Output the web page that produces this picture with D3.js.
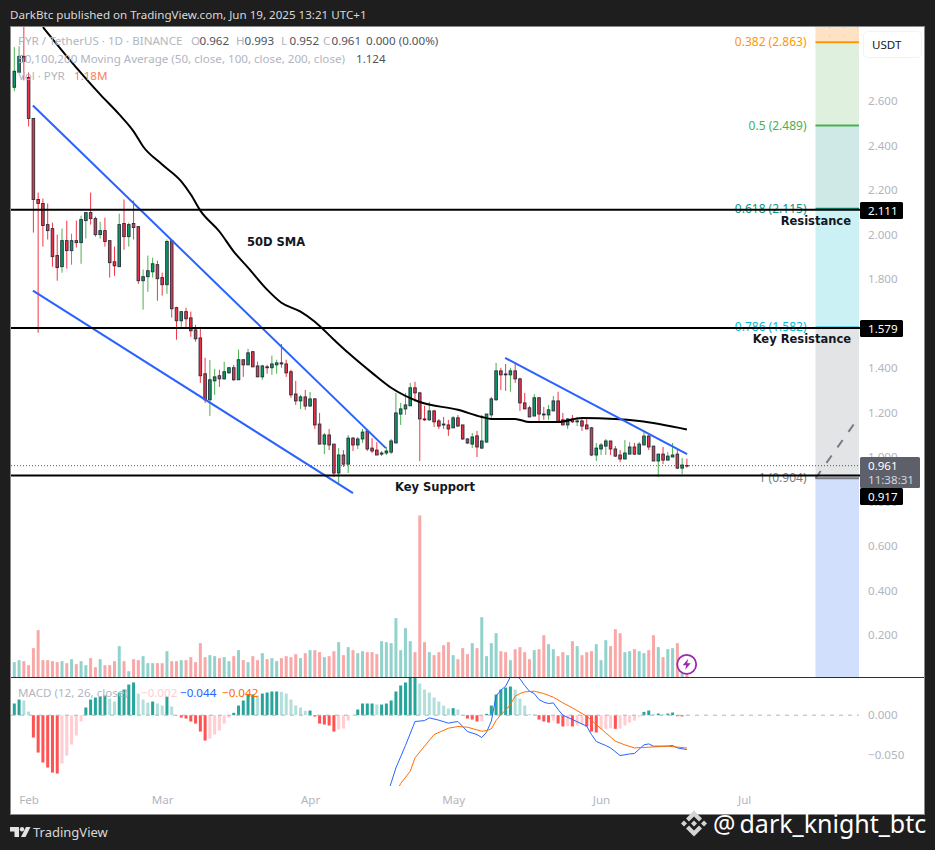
<!DOCTYPE html>
<html>
<head>
<meta charset="utf-8">
<script src="https://cdn.jsdelivr.net/npm/d3@7/dist/d3.min.js"></script>
<style>
  body { margin: 0; background: #1e1e1e; }
  text { font-family: "Noto Sans", sans-serif; }
</style>
</head>
<body>
<div id="chart"></div>
<script>
// daily candles, Jan 29 to Jun 19 2025, index = days since Jan 29
const open = [2.661,2.728,2.800,2.705,2.521,2.157,2.139,2.044,2.026,1.905,1.855,1.972,1.927,1.972,1.963,2.062,2.098,2.071,1.999,2.017,1.972,1.877,1.855,2.049,1.990,2.049,2.035,1.792,1.810,1.832,1.864,1.806,1.774,1.972,1.671,1.612,1.653,1.625,1.571,1.535,1.374,1.257,1.342,1.365,1.351,1.378,1.401,1.347,1.437,1.414,1.473,1.409,1.360,1.405,1.401,1.414,1.423,1.418,1.383,1.283,1.252,1.270,1.229,1.261,1.148,1.058,1.099,1.058,0.928,1.009,0.968,1.085,1.054,1.081,1.117,1.040,1.031,1.013,1.018,1.022,1.063,1.193,1.216,1.230,1.311,1.288,1.171,1.167,1.207,1.162,1.148,1.144,1.131,1.176,1.144,1.081,1.058,1.095,1.040,1.067,1.189,1.257,1.387,1.373,1.369,1.387,1.351,1.243,1.221,1.184,1.266,1.193,1.189,1.207,1.252,1.167,1.144,1.171,1.158,1.162,1.144,1.131,1.009,1.036,1.049,1.072,1.036,1.009,0.991,1.013,1.045,1.013,1.054,1.094,1.049,0.982,1.013,0.986,1.000,1.013,0.950,0.962];
const high = [2.841,2.845,2.935,2.728,2.521,2.188,2.161,2.139,2.053,1.999,2.026,2.062,2.003,2.062,2.084,2.098,2.188,2.080,2.057,2.075,1.972,1.945,2.093,2.157,2.053,2.152,2.035,1.842,1.905,1.895,1.882,1.828,1.977,1.977,1.675,1.653,1.671,1.653,1.594,1.585,1.446,1.436,1.396,1.392,1.428,1.405,1.414,1.482,1.437,1.486,1.477,1.428,1.414,1.414,1.455,1.437,1.508,1.437,1.392,1.342,1.279,1.301,1.292,1.265,1.198,1.108,1.126,1.058,1.040,1.031,1.099,1.090,1.090,1.126,1.126,1.085,1.067,1.027,1.045,1.081,1.288,1.243,1.288,1.333,1.338,1.293,1.230,1.248,1.212,1.171,1.180,1.167,1.184,1.189,1.144,1.085,1.108,1.117,1.189,1.193,1.270,1.423,1.401,1.418,1.401,1.423,1.356,1.288,1.230,1.283,1.270,1.225,1.234,1.274,1.293,1.198,1.175,1.189,1.180,1.175,1.175,1.135,1.063,1.063,1.081,1.072,1.049,1.031,1.076,1.067,1.063,1.067,1.112,1.099,1.049,1.013,1.045,1.022,1.063,1.031,0.995,0.993];
const low = [2.643,2.728,2.692,2.485,2.008,1.558,1.945,1.977,1.855,1.792,1.828,1.846,1.864,1.941,1.868,1.981,2.044,1.990,1.981,1.945,1.806,1.814,1.855,1.931,1.945,1.977,1.778,1.662,1.742,1.806,1.702,1.725,1.733,1.626,1.527,1.585,1.581,1.540,1.518,1.333,1.243,1.185,1.279,1.315,1.347,1.374,1.342,1.347,1.360,1.414,1.405,1.360,1.347,1.374,1.369,1.374,1.401,1.360,1.266,1.234,1.216,1.212,1.225,1.126,1.058,1.013,1.031,0.910,0.874,0.955,0.928,1.027,1.036,1.063,1.027,1.018,1.009,1.004,1.009,1.013,1.063,1.144,1.189,1.230,1.248,0.982,1.162,1.162,1.135,1.126,1.126,1.095,1.131,1.135,1.077,1.058,1.040,1.000,1.036,1.067,1.175,1.252,1.301,1.297,1.293,1.333,1.207,1.216,1.180,1.184,1.153,1.167,1.167,1.207,1.153,1.144,1.126,1.153,1.139,1.117,1.126,1.004,0.982,1.009,1.009,1.009,1.000,0.977,0.991,1.013,1.009,1.009,1.054,1.031,0.982,0.910,0.968,0.986,1.000,0.946,0.923,0.952];
const close = [2.733,2.800,2.778,2.521,2.157,2.139,2.040,2.017,1.900,1.851,1.972,1.927,1.972,1.963,2.067,2.098,2.071,1.999,2.017,1.968,1.873,1.859,2.044,1.990,2.044,2.031,1.792,1.810,1.837,1.868,1.801,1.774,1.968,1.666,1.612,1.653,1.621,1.567,1.531,1.365,1.257,1.347,1.360,1.351,1.383,1.401,1.347,1.437,1.414,1.468,1.405,1.360,1.409,1.401,1.418,1.423,1.418,1.378,1.279,1.252,1.270,1.229,1.261,1.144,1.058,1.099,1.054,0.928,1.009,0.968,1.085,1.054,1.081,1.112,1.036,1.027,1.009,1.018,1.027,1.072,1.198,1.216,1.234,1.311,1.288,1.171,1.167,1.207,1.158,1.139,1.144,1.126,1.176,1.139,1.081,1.063,1.090,1.045,1.072,1.193,1.261,1.387,1.369,1.369,1.387,1.351,1.243,1.216,1.180,1.266,1.193,1.189,1.212,1.252,1.158,1.144,1.171,1.158,1.162,1.139,1.126,1.009,1.040,1.054,1.072,1.036,1.004,0.991,1.018,1.045,1.013,1.058,1.094,1.045,0.982,1.013,0.986,1.004,1.009,0.950,0.964,0.961];

// volume in millions
const volume = [1.84,2.08,1.96,1.48,3.52,5.68,2.08,2.08,1.96,1.84,1.96,1.72,2.20,1.60,1.96,1.48,2.32,1.24,2.20,1.48,1.48,1.96,3.76,1.96,0.76,2.20,2.08,2.56,1.72,1.72,1.72,1.72,3.16,1.96,1.96,2.08,2.08,2.44,1.84,4.12,2.44,2.68,2.56,2.32,2.44,1.96,2.56,3.28,2.08,1.84,2.56,2.08,2.92,2.20,2.32,1.96,2.32,2.56,2.44,2.80,2.32,2.92,3.28,3.28,3.04,2.44,2.56,3.16,4.24,2.68,3.64,3.28,2.92,3.16,3.04,3.04,2.80,4.36,4.24,4.12,7.12,3.28,5.92,4.36,3.04,19.44,4.24,3.04,2.68,3.04,3.88,4.24,2.68,2.20,3.52,2.80,4.12,3.52,7.24,2.56,4.12,5.32,3.16,3.04,2.08,3.40,3.64,3.04,2.20,3.28,3.40,5.08,4.00,3.40,2.56,3.04,2.68,4.36,3.76,2.68,3.04,3.16,4.00,2.08,4.48,3.76,5.80,5.32,3.04,3.16,3.40,3.16,2.92,3.28,5.08,3.64,2.44,3.40,3.52,4.12,1.28,1.18];

// MACD histogram in thousandths
const macdHist = [14.8,19.8,18.6,4.6,-28.3,-47.3,-59.9,-66.3,-72.6,-73.9,-61.2,-51.1,-37.1,-25.7,-8.0,9.7,19.8,22.4,23.6,24.9,21.1,17.3,28.7,32.5,38.8,41.4,27.4,19.8,16.0,17.3,14.8,12.2,23.6,11.0,-0.4,-3.0,-4.2,-8.0,-10.6,-20.7,-32.1,-29.5,-24.5,-19.4,-10.6,-3.0,3.0,12.2,18.6,26.2,26.2,24.9,27.4,28.7,30.0,30.0,29.5,27.4,19.8,12.2,9.7,5.5,5.9,-1.7,-10.6,-11.8,-13.1,-20.7,-18.1,-16.9,-6.8,-0.2,7.2,14.8,14.8,14.8,13.5,13.5,14.8,18.6,30.0,37.6,41.4,48.5,49.0,40.1,32.5,28.7,22.4,17.3,12.2,8.4,8.9,7.2,-0.4,-4.2,-5.5,-8.0,-7.6,1.7,12.2,26.2,32.5,35.0,36.3,32.5,21.1,12.2,1.3,0.8,-5.5,-8.0,-9.3,-6.8,-10.6,-14.3,-13.9,-14.3,-13.1,-11.8,-14.3,-20.7,-21.9,-17.7,-17.3,-16.5,-17.3,-16.9,-13.1,-9.3,-6.8,-2.1,4.2,5.9,1.3,2.1,1.3,2.1,3.4,-1.3,-1.5,-0.8];

// MACD and signal lines: candle index and value in thousandths
const macdIdx = [78,79,80,82,84,86,87,89,91,92,93,95,97,98,99,100,101,102,103,104,105,106,107,108,109,110,111,112,113,114,115,117,120,121,122,124,125,127,129,130,132,133,134,137,138,139,141];
const macdVal = [-102.5,-85.7,-66.7,-38.4,-8.0,-6.8,-3.4,-6.3,-10.1,-8.9,-8.0,-20.7,-24.5,-28.3,-21.5,-7.6,24.1,31.7,36.7,48.5,51.5,46,37.6,30.4,27.4,19.8,16.5,14.8,15.6,7.2,0,-5.5,-13.9,-24.5,-33.3,-38.4,-41.4,-51.1,-49,-48.5,-37.6,-36.3,-39.2,-39.2,-38.4,-41.4,-43.5];
const signalIdx = [80,81,83,84,86,88,91,93,95,97,98,99,100,101,102,103,104,105,106,107,109,111,113,115,117,120,122,124,126,128,130,133,137,141];
const signalVal = [-98.3,-86.5,-70.9,-54.0,-39.2,-24.5,-16.5,-14.3,-15.2,-18.6,-20.3,-19.4,-17.3,-6.8,0.8,6.3,13.5,24.1,27.4,29.5,30.4,27.4,22.8,15.6,9.3,-1.3,-11.8,-22.4,-32.9,-37.6,-41.4,-40.5,-39.2,-41.5];

// 50 day moving average
const smaIdx = [6,11,18,22,25,27,31,35,37,39,43,46,49,53,56,60,63,67,70,75,79,85,93,98,100,105,108,114,119,126,131,141];
const smaVal = [2.931,2.800,2.629,2.539,2.463,2.395,2.314,2.238,2.179,2.107,2.013,1.923,1.851,1.752,1.693,1.653,1.608,1.527,1.468,1.378,1.311,1.247,1.212,1.180,1.171,1.171,1.157,1.157,1.175,1.171,1.162,1.124];

// drawn trendlines: [index, price, index, price]
const trendlines = [
  [3.9, 2.579, 77.9, 1.040],
  [3.9, 1.747, 71.0, 0.838],
  [102.9, 1.445, 141.04, 1.013]
];

const levels = [2.111, 1.579, 0.917];
const levelNotes = ["Resistance", "Key Resistance"];
const lastPrice = 0.961;
const countdown = "11:38:31";

const fibs = [
  { label: "0.382 (2.863)", price: 2.863, color: "#ff9800", band: "#fde3c4" },
  { label: "0.5 (2.489)", price: 2.489, color: "#4caf50", band: "#dff0de" },
  { label: "0.618 (2.115)", price: 2.115, color: "#089981", band: "#cfeae6" },
  { label: "0.786 (1.582)", price: 1.582, color: "#00bcd4", band: "#ccf1f5" },
  { label: "1 (0.904)", price: 0.904, color: "#787b86", band: "#e3e4e6" }
];

const priceTicks = [0.2, 0.4, 0.6, 0.8, 1.0, 1.2, 1.4, 1.6, 1.8, 2.0, 2.2, 2.4, 2.6];
const macdTicks = [0, -0.05];
const monthIdx = [3, 31, 62, 92, 123, 153];
const monthNames = ["Feb", "Mar", "Apr", "May", "Jun", "Jul"];

const width = 935;
const height = 850;
const frameLeft = 11;
const frameRight = 924;
const frameTop = 27;
const frameBottom = 814;
const plotRight = 860;
const mainBottom = 677.5;
const macdBottom = 786;
const grey = "#b2b5be";
const fontSize = 11.6;

const x = d3.scaleLinear().domain([0, 141]).range([14.3, 686.9]);
const y = d3.scaleLinear().domain([1, 2]).range([457, 234.4]);
const yVol = d3.scaleLinear().domain([0, 20]).range([mainBottom, mainBottom - 166.7]);
const yMacd = d3.scaleLinear().domain([0, -0.05]).range([715.2, 754.7]);

const svg = d3.select("#chart").append("svg")
  .attr("width", width)
  .attr("height", height)
  .style("display", "block");

svg.append("text")
  .attr("x", 10).attr("y", 19)
  .attr("fill", "#d9d9d9").attr("font-size", fontSize)
  .text("DarkBtc published on TradingView.com, Jun 19, 2025 13:21 UTC+1");

svg.append("rect")
  .attr("x", frameLeft - 0.5).attr("y", frameTop - 0.5)
  .attr("width", frameRight - frameLeft + 1).attr("height", frameBottom - frameTop + 1)
  .attr("fill", "#fff").attr("stroke", "#8a8a8a");

const defs = svg.append("defs");
defs.append("clipPath").attr("id", "main-clip").append("rect")
  .attr("x", frameLeft).attr("y", frameTop)
  .attr("width", plotRight - frameLeft).attr("height", mainBottom - frameTop);
defs.append("clipPath").attr("id", "macd-clip").append("rect")
  .attr("x", frameLeft).attr("y", mainBottom)
  .attr("width", plotRight - frameLeft).attr("height", macdBottom - mainBottom);
const dots = defs.append("pattern").attr("id", "fib-dots")
  .attr("width", 14).attr("height", 8).attr("patternUnits", "userSpaceOnUse");
dots.append("rect").attr("width", 14).attr("height", 8).attr("fill", "#fde3c4");
dots.append("rect").attr("x", 3).attr("y", 3).attr("width", 1).attr("height", 1).attr("fill", "#e9c9a0");

// fib retracement bands and lines
const fibX0 = 815.5;
const fibX1 = 859;
const fibG = svg.append("g");
fibs.forEach((f, i) => {
  const top = i === 0 ? frameTop : y(fibs[i - 1].price);
  fibG.append("rect")
    .attr("x", fibX0).attr("y", top)
    .attr("width", fibX1 - fibX0).attr("height", y(f.price) - top)
    .attr("fill", i === 0 ? "url(#fib-dots)" : f.band);
});
fibG.append("rect")
  .attr("x", fibX0).attr("y", y(0.904))
  .attr("width", fibX1 - fibX0).attr("height", mainBottom - y(0.904))
  .attr("fill", "#d1defc");
fibs.forEach((f) => {
  fibG.append("line")
    .attr("x1", fibX0).attr("x2", fibX1)
    .attr("y1", y(f.price)).attr("y2", y(f.price))
    .attr("stroke", f.color).attr("stroke-width", 2);
  fibG.append("text")
    .attr("x", 806.5).attr("y", y(f.price) + 4)
    .attr("text-anchor", "end").attr("font-size", 12)
    .attr("fill", f.color)
    .text(f.label);
});
fibG.append("line")
  .attr("x1", fibX0).attr("y1", y(0.904))
  .attr("x2", fibX1).attr("y2", y(1.18))
  .attr("stroke", "#787b86").attr("stroke-width", 2)
  .attr("stroke-dasharray", "9 10");

// volume
svg.append("g").attr("clip-path", "url(#main-clip)")
  .selectAll("rect").data(volume).join("rect")
  .attr("x", (d, i) => x(i) - 1.5)
  .attr("y", (d) => yVol(d))
  .attr("width", 3)
  .attr("height", (d) => yVol(0) - yVol(d))
  .attr("fill", (d, i) => (close[i] >= open[i] ? "#92d2cc" : "#f9a8a8"));

// MACD histogram
svg.append("g").attr("clip-path", "url(#macd-clip)")
  .selectAll("rect").data(macdHist).join("rect")
  .attr("x", (d, i) => x(i) - 1.5)
  .attr("y", (d) => yMacd(Math.max(d, 0) / 1000))
  .attr("width", 3)
  .attr("height", (d) => Math.abs(yMacd(d / 1000) - yMacd(0)))
  .attr("fill", (d, i) => {
    const prev = i === 0 ? d - 1 : macdHist[i - 1];
    if (d >= 0) return d >= prev ? "#26a69a" : "#b2dfdb";
    return d <= prev ? "#ff5252" : "#ffcdd2";
  });

svg.append("line")
  .attr("x1", frameLeft).attr("x2", fibX1)
  .attr("y1", yMacd(0)).attr("y2", yMacd(0))
  .attr("stroke", grey).attr("stroke-dasharray", "4 5");

function indexedLine(idx) {
  return d3.line().x((d, i) => x(idx[i])).y((d) => yMacd(d / 1000));
}

const macdG = svg.append("g").attr("clip-path", "url(#macd-clip)").attr("fill", "none");
macdG.append("path").attr("d", indexedLine(macdIdx)(macdVal)).attr("stroke", "#2962ff").attr("stroke-width", 1);
macdG.append("path").attr("d", indexedLine(signalIdx)(signalVal)).attr("stroke", "#ff6d00").attr("stroke-width", 1);

// last price dotted line
svg.append("line")
  .attr("x1", frameLeft).attr("x2", plotRight)
  .attr("y1", y(lastPrice)).attr("y2", y(lastPrice))
  .attr("stroke", "#555").attr("stroke-dasharray", "1 2");

// candles
const candles = svg.append("g").attr("clip-path", "url(#main-clip)");
candles.selectAll("line").data(open).join("line")
  .attr("x1", (d, i) => x(i)).attr("x2", (d, i) => x(i))
  .attr("y1", (d, i) => y(high[i])).attr("y2", (d, i) => y(low[i]))
  .attr("stroke", (d, i) => (close[i] >= open[i] ? "#4caf50" : "#f23645"))
  .attr("stroke-width", 1);
candles.selectAll("rect").data(open).join("rect")
  .attr("x", (d, i) => x(i) - 1.3)
  .attr("y", (d, i) => y(Math.max(d, close[i])))
  .attr("width", 2.6)
  .attr("height", (d, i) => Math.max(0.6, Math.abs(y(d) - y(close[i]))))
  .attr("fill", (d, i) => (close[i] >= open[i] ? "#089968" : "#e8324a"))
  .attr("stroke", "#2a2e39").attr("stroke-width", 0.9);

// 50D SMA
svg.append("path")
  .attr("clip-path", "url(#main-clip)")
  .attr("fill", "none").attr("stroke", "#000").attr("stroke-width", 2)
  .attr("d", d3.line().x((d, i) => x(smaIdx[i])).y((d) => y(d)).curve(d3.curveMonotoneX)(smaVal));

// trendlines
svg.append("g").selectAll("line").data(trendlines).join("line")
  .attr("x1", (d) => x(d[0])).attr("y1", (d) => y(d[1]))
  .attr("x2", (d) => x(d[2])).attr("y2", (d) => y(d[3]))
  .attr("stroke", "#2962ff").attr("stroke-width", 2);

// horizontal levels
svg.append("g").selectAll("line").data(levels).join("line")
  .attr("x1", frameLeft).attr("x2", plotRight)
  .attr("y1", (d) => y(d)).attr("y2", (d) => y(d))
  .attr("stroke", "#000").attr("stroke-width", 2);

// pane separator
svg.append("line")
  .attr("x1", frameLeft).attr("x2", frameRight)
  .attr("y1", mainBottom).attr("y2", mainBottom)
  .attr("stroke", "#2a2e39");

// notes
const boldFont = "'DejaVu Sans', sans-serif";
function note(str, xPos, yPos, anchor) {
  svg.append("text")
    .attr("x", xPos).attr("y", yPos)
    .attr("text-anchor", anchor)
    .attr("font-weight", "bold")
    .attr("font-size", 11.5).attr("fill", "#131722")
    .style("font-family", boldFont)
    .text(str);
}
note("50D SMA", 247, 246, "start");
note(levelNotes[0], 851, 225, "end");
note(levelNotes[1], 851, 343, "end");
note("Key Support", 395, 491, "start");

// price axis
const axisY = svg.append("g")
  .attr("transform", `translate(${plotRight},0)`)
  .call(d3.axisRight(y).tickValues(priceTicks).tickSize(0).tickPadding(8).tickFormat(d3.format(".3f")));
axisY.select(".domain").remove();
axisY.selectAll("text").attr("fill", grey).attr("font-size", fontSize).attr("font-family", null);

const axisMacd = svg.append("g")
  .attr("transform", `translate(${plotRight},0)`)
  .call(d3.axisRight(yMacd).tickValues(macdTicks).tickSize(0).tickPadding(8)
    .tickFormat((d) => (d < 0 ? "\u2212" : "") + d3.format(".3f")(Math.abs(d))));
axisMacd.select(".domain").remove();
axisMacd.selectAll("text").attr("fill", grey).attr("font-size", fontSize).attr("font-family", null);

// time axis
const axisX = svg.append("g")
  .attr("transform", `translate(0,${796})`)
  .call(d3.axisBottom(x).tickValues(monthIdx).tickSize(0).tickPadding(0)
    .tickFormat((d, i) => monthNames[i]));
axisX.select(".domain").remove();
axisX.selectAll("text").attr("fill", grey).attr("font-size", fontSize).attr("font-family", null);

// price labels
function priceBox(top, boxH, boxW, fill) {
  svg.append("rect")
    .attr("x", plotRight).attr("y", top)
    .attr("width", boxW).attr("height", boxH).attr("rx", 1.5)
    .attr("fill", fill);
}
[[2.111, 202], [1.579, 320], [0.917, 488]].forEach(([val, top]) => {
  priceBox(top, 17, 43, "#000");
  svg.append("text")
    .attr("x", 868).attr("y", top + 13)
    .attr("fill", "#fff").attr("font-size", fontSize)
    .text(val.toFixed(3));
});
priceBox(457, 31, 60, "#5d606b");
svg.append("text").attr("x", 868).attr("y", 470).attr("fill", "#fff").attr("font-size", fontSize).text(lastPrice.toFixed(3));
svg.append("text").attr("x", 868).attr("y", 484).attr("fill", "#d6d6da").attr("font-size", fontSize).text(countdown);

// USDT button
svg.append("rect")
  .attr("x", 863.5).attr("y", 31.5).attr("width", 58).attr("height", 26).attr("rx", 4)
  .attr("fill", "#fff").attr("stroke", "#f0f3fa");
svg.append("text")
  .attr("x", 872).attr("y", 49).attr("fill", "#131722").attr("font-size", fontSize)
  .text("USDT");

// legend rows
function legend(str, xPos, yPos, color) {
  svg.append("text")
    .attr("x", xPos).attr("y", yPos)
    .attr("fill", color).attr("font-size", fontSize)
    .text(str);
}
const valueInk = "#50535e";
legend("PYR / TetherUS \u00b7 1D \u00b7 BINANCE", 18, 45, grey);
[["O", "0.962", 191], ["H", "0.993", 236], ["L", "0.952", 281], ["C", "0.961", 323]].forEach(([k, v, xPos]) => {
  legend(k, xPos, 45, grey);
  legend(v, xPos + 8.5, 45, valueInk);
});
legend("0.000 (0.00%)", 366, 45, valueInk);
legend("50,100,200 Moving Average (50, close, 100, close, 200, close)", 18, 63, grey);
legend("1.124", 356, 63, valueInk);
legend("Vol \u00b7 PYR", 18, 80, grey);
legend("1.18M", 74, 80, "#f7805a");
legend("MACD (12, 26, close)", 18, 697, grey);
legend("\u22120.002", 141, 697, "#ffcdd2");
legend("\u22120.044", 180, 697, "#2962ff");
legend("\u22120.042", 222, 697, "#ff6d00");

// lightning marker
const bolt = svg.append("g").attr("transform", "translate(686.7,664.3)");
bolt.append("circle").attr("r", 9.5).attr("fill", "#fff").attr("stroke", "#9c27b0").attr("stroke-width", 1.8);
bolt.append("path").attr("d", "M1.5,-5.5 L-4,1 L-0.5,1 L-1.5,5.5 L4,-1 L0.5,-1 Z").attr("fill", "#9c27b0");

// footer
const logo = svg.append("g").attr("transform", "translate(10,827)").attr("fill", "#e3e3e3");
logo.append("path").attr("d", "M0,0 H9 V10 H4.5 V4.5 H0 Z");
logo.append("circle").attr("cx", 12).attr("cy", 2.2).attr("r", 2.2);
logo.append("path").attr("d", "M16,0 H20.5 L15.5,10 H11 Z");
svg.append("text")
  .attr("x", 33).attr("y", 837)
  .attr("fill", "#d9d9d9").attr("font-size", 13)
  .text("TradingView");

// watermark
const mark = svg.append("g").attr("transform", "translate(694,823.5)").attr("fill", "#d4d4d4");
mark.append("path").attr("d", "M0,-13 L8,-5 L5,-2 L0,-7 L-5,-2 L-8,-5 Z");
mark.append("path").attr("d", "M0,13 L8,5 L5,2 L0,7 L-5,2 L-8,5 Z");
[-10, 0, 10].forEach((dx) => {
  mark.append("path").attr("d", `M${dx},-3 L${dx + 3},0 L${dx},3 L${dx - 3},0 Z`);
});
const wm = svg.append("text")
  .attr("x", 713).attr("y", 833)
  .attr("fill", "#fff").attr("font-size", 25);
wm.append("tspan").text("@");
wm.append("tspan").attr("dx", 4).text("dark_knight_btc");
</script>
</body>
</html>
